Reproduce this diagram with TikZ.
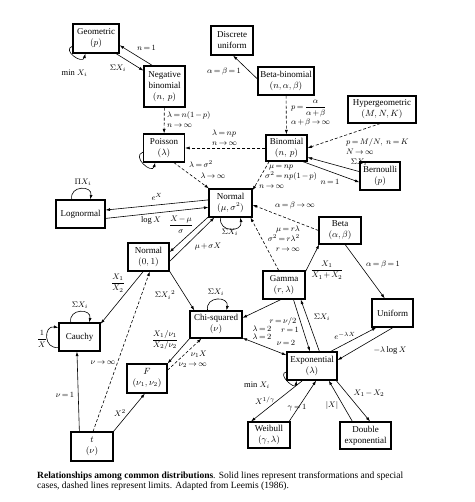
\documentclass[tikz,border=0pt]{standalone}
\usepackage{amsmath}
\usepackage{fontspec}
\setmainfont{Liberation Serif}
\usetikzlibrary{arrows.meta}
\thickmuskip=3mu plus 2mu
\medmuskip=2mu plus 1mu

\begin{document}
\begin{tikzpicture}[x=1pt, y=-1pt,
  box/.style={draw, line width=1.1pt, align=center, font=\fontsize{9}{11}\selectfont,
    minimum width=41pt, minimum height=28pt, inner sep=1pt},
  lab/.style={font=\fontsize{8.5}{10}\selectfont, inner sep=0pt, align=left},
  arr/.style={-{Latex[length=4.5pt,width=3pt]}, line width=0.6pt},
  dbl/.style={{Latex[length=4.5pt,width=3pt]}-{Latex[length=4.5pt,width=3pt]}, line width=0.6pt},
  lim/.style={arr, dash pattern=on 3pt off 2pt},
  loopy/.style={arr, looseness=2}]
\useasboundingbox (0,0) rectangle (474,502);

% distributions
\node[box, minimum width=46pt, minimum height=29pt] (geo) at (96,38.5) {Geometric\\$(p)$};
\node[box, minimum height=41pt] (nb) at (164.5,86.5) {Negative\\binomial\\$(n,\,p)$};
\node[box] (poi) at (164,148) {Poisson\\$(\lambda)$};
\node[box, minimum width=42pt, minimum height=29pt] (du) at (232,40.5) {Discrete\\uniform};
\node[box, minimum width=56pt] (bb) at (286,81) {Beta-binomial\\$(n,\alpha,\beta)$};
\node[box, minimum width=68pt, minimum height=27pt] (hyp) at (382,109.5) {Hypergeometric\\$(M,N,K)$};
\node[box, minimum height=26pt] (bin) at (286.5,148) {Binomial\\$(n,\,p)$};
\node[box, minimum width=40pt] (ber) at (380,176) {Bernoulli\\$(p)$};
\node[box, minimum width=43pt] (nor) at (230.5,203) {Normal\\$(\mu,\sigma^2)$};
\node[box, minimum width=42pt, minimum height=27pt] (beta) at (340,230.5) {Beta\\$(\alpha,\beta)$};
\node[box, minimum width=49pt] (logn) at (80.5,214) {Lognormal};
\node[box] (std) at (148.5,257) {Normal\\$(0,1)$};
\node[box] (cau) at (79.5,337) {Cauchy};
\node[box, minimum width=52pt, minimum height=27pt] (chi) at (216,324.5) {Chi-squared\\$(\nu)$};
\node[box, minimum width=42pt] (gam) at (284,285) {Gamma\\$(r,\lambda)$};
\node[box] (uni) at (392.5,313) {Uniform};
\node[box, minimum width=50pt] (expo) at (312,366) {Exponential\\$(\lambda)$};
\node[box, minimum width=40pt, minimum height=29pt] (F) at (147,378.5) {$F$\\$(\nu_1,\nu_2)$};
\node[box, minimum width=42pt, minimum height=29pt] (t) at (92,446.5) {$t$\\$(\nu)$};
\node[box, minimum width=42pt, minimum height=26pt] (wei) at (269,435) {Weibull\\$(\gamma,\lambda)$};
\node[box, minimum width=51pt, minimum height=27pt] (dexp) at (365.5,435.5) {Double\\exponential};

% top part
\draw[arr] (nb.120) -- (geo.-16);
\draw[arr] (geo.-37) -- (nb.143);
\draw[loopy] (geo.198) to[out=200,in=255] (geo.235);
\draw[lim] (nb) -- (poi);
\draw[arr] (bb.176) -- (du.-86);
\draw[lim] (bb) -- (bin);
\draw[lim] (hyp.-97) -- (bin.east);
\draw[lim] (bin) -- (poi);
\draw[arr] (ber.168) -- (bin.-24);
\draw[arr] (bin.-40) -- (ber.197);
\draw[lim] (bin.218) -- (nor.30);
\draw[lim] (poi.-56) -- (nor.146);
\draw[loopy] (poi.191) to[out=200,in=255] (poi.239);

\node[lab] (l1) at (146.5,48) {$n=1$};
\node[lab] (l2) at (118,68) {$\Sigma X_i$};
\node[lab] (l3) at (74.5,73) {min $X_i$};
\node[lab, anchor=west] (l4) at (167,120) {$\lambda=n(1-p)$\\$n\to\infty$};
\node[lab] (l5) at (224,72) {$\alpha=\beta=1$};
\node[lab, anchor=west] (l6) at (291,113) {$p=\dfrac{\alpha}{\alpha+\beta}$\\[1pt]$\alpha+\beta\to\infty$};
\node[lab, anchor=west] (l7) at (346,147) {$p=M/N,\ n=K$\\$N\to\infty$};
\node[lab, anchor=west] (l8) at (212,138) {$\lambda=np$\\$n\to\infty$};
\node[lab] (l9) at (359,162) {$\Sigma X_i$};
\node[lab] (l10) at (330,182) {$n=1$};
\node[lab, anchor=north west] (l11) at (259,165) {\hspace*{10pt}$\mu=np$\\\hspace*{6pt}$\sigma^2=np(1-p)$\\$n\to\infty$};
\node[lab] (l12) at (201,164) {$\lambda=\sigma^2$};
\node[lab] (l13) at (213,176) {$\lambda\to\infty$};

% normal and lognormal
\draw[arr] (nor.172) -- (logn.9);
\draw[arr] (logn.-10) -- (nor.191);
\draw[loopy] (logn.121) to[out=100,in=80] (logn.56);
\draw[loopy] (nor.236) to[out=260,in=280] (nor.304);
\draw[arr] (nor.212) -- (std.13);
\draw[arr] (std.-12) -- (nor.222);
\draw[lim] (gam.110) -- (nor.-36);
\draw[lim] (beta.180) -- (nor.-5);

\node[lab] (l14) at (157,197) {$e^X$};
\node[lab] (l15) at (151,220) {$\log X$};
\node[lab] (l16) at (83,182) {$\Pi X_i$};
\node[lab] (l17) at (230,232) {$\Sigma X_i$};
\node[lab] (l18) at (181,225) {$\dfrac{X-\mu}{\sigma}$};
\node[lab] (l19) at (208,247) {$\mu+\sigma X$};
\node[lab, align=right, anchor=north east] (l20) at (300,226) {$\mu=r\lambda$\\$\sigma^2=r\lambda^2$\\$r\to\infty$};
\node[lab] (l21) at (295,206) {$\alpha=\beta\to\infty$};

% standard normal, cauchy, chi-squared, F, t
\draw[arr] (std.250) -- (cau.32);
\draw[loopy] (cau.121) to[out=100,in=80] (cau.56);
\draw[loopy] (cau.206) to[out=190,in=170] (cau.156);
\draw[arr] (std.-34) -- (chi.147);
\draw[loopy] (chi.121) to[out=100,in=80] (chi.53);
\draw[arr] (chi.208) -- (F.36);
\draw[lim] (F.22) -- (chi.224);
\draw[arr] (t.35) -- (F.262);
\draw[arr] (t.130) -- (cau.260);
\draw[lim] (t.86) -- (std.-85);

\node[lab] (l22) at (118,283) {$\dfrac{X_1}{X_2}$};
\node[lab] (l23) at (80,305) {$\Sigma X_i$};
\node[lab] (l24) at (42,339) {$\dfrac{1}{X}$};
\node[lab] (l25) at (165,295) {$\Sigma {X_i}^2$};
\node[lab] (l26) at (216,292) {$\Sigma X_i$};
\node[lab] (l27) at (165,340) {$\dfrac{X_1/\nu_1}{X_2/\nu_2}$};
\node[lab, align=right, anchor=east] (l28) at (207,359) {$\nu_1 X$\\$\nu_2\to\infty$};
\node[lab] (l29) at (120,413) {$X^2$};
\node[lab] (l30) at (65,395) {$\nu=1$};
\node[lab] (l31) at (103,363) {$\nu\to\infty$};

% gamma, beta, exponential
\draw[arr] (gam.32) -- (beta.214);
\draw[arr] (beta.-70) -- (uni.118);
\draw[arr] (gam.258) -- (chi.14);
\draw[arr] (gam.-57) -- (expo.98);
\draw[arr] (expo.63) -- (gam.-41);
\draw[dbl] (chi.-27) -- (expo.157);
\draw[arr] (expo.38) -- (uni.222);
\draw[arr] (uni.-88) -- (expo.13.5);
\draw[loopy] (expo.193) to[out=190,in=265] (expo.223);
\draw[arr] (expo.237) -- (wei.143);
\draw[arr] (wei.34) -- (expo.-74);
\draw[arr] (dexp.133) -- (expo.-41);
\draw[arr] (expo.-31) -- (dexp.72);

\node[lab] (l32) at (327,270) {$\dfrac{X_1}{X_1+X_2}$};
\node[lab] (l33) at (383,264) {$\alpha=\beta=1$};
\node[lab] (l34) at (283,321) {$r=\nu/2$};
\node[lab] (l35) at (262,329) {$\lambda=2$};
\node[lab] (l36) at (290,330) {$r=1$};
\node[lab] (l37) at (262,337) {$\lambda=2$};
\node[lab] (l38) at (286,343) {$\nu=2$};
\node[lab] (l39) at (322,317) {$\Sigma X_i$};
\node[lab] (l40) at (345,336) {$e^{-\lambda X}$};
\node[lab] (l41) at (390,350) {$-\lambda\log X$};
\node[lab] (l42) at (257,385) {min $X_i$};
\node[lab] (l43) at (265,401) {$X^{1/\gamma}$};
\node[lab] (l44) at (297,408) {$\gamma=1$};
\node[lab] (l45) at (332,405) {$|X|$};
\node[lab] (l46) at (369,393) {$X_1-X_2$};

\node[anchor=north west, align=left, inner sep=0pt, font=\fontsize{9.5}{10}\selectfont] (cap) at (37,472)
  {\textbf{Relationships among common distributions}. Solid lines represent transformations and special\\
   cases, dashed lines represent limits. Adapted from Leemis (1986).};
\end{tikzpicture}
\end{document}
